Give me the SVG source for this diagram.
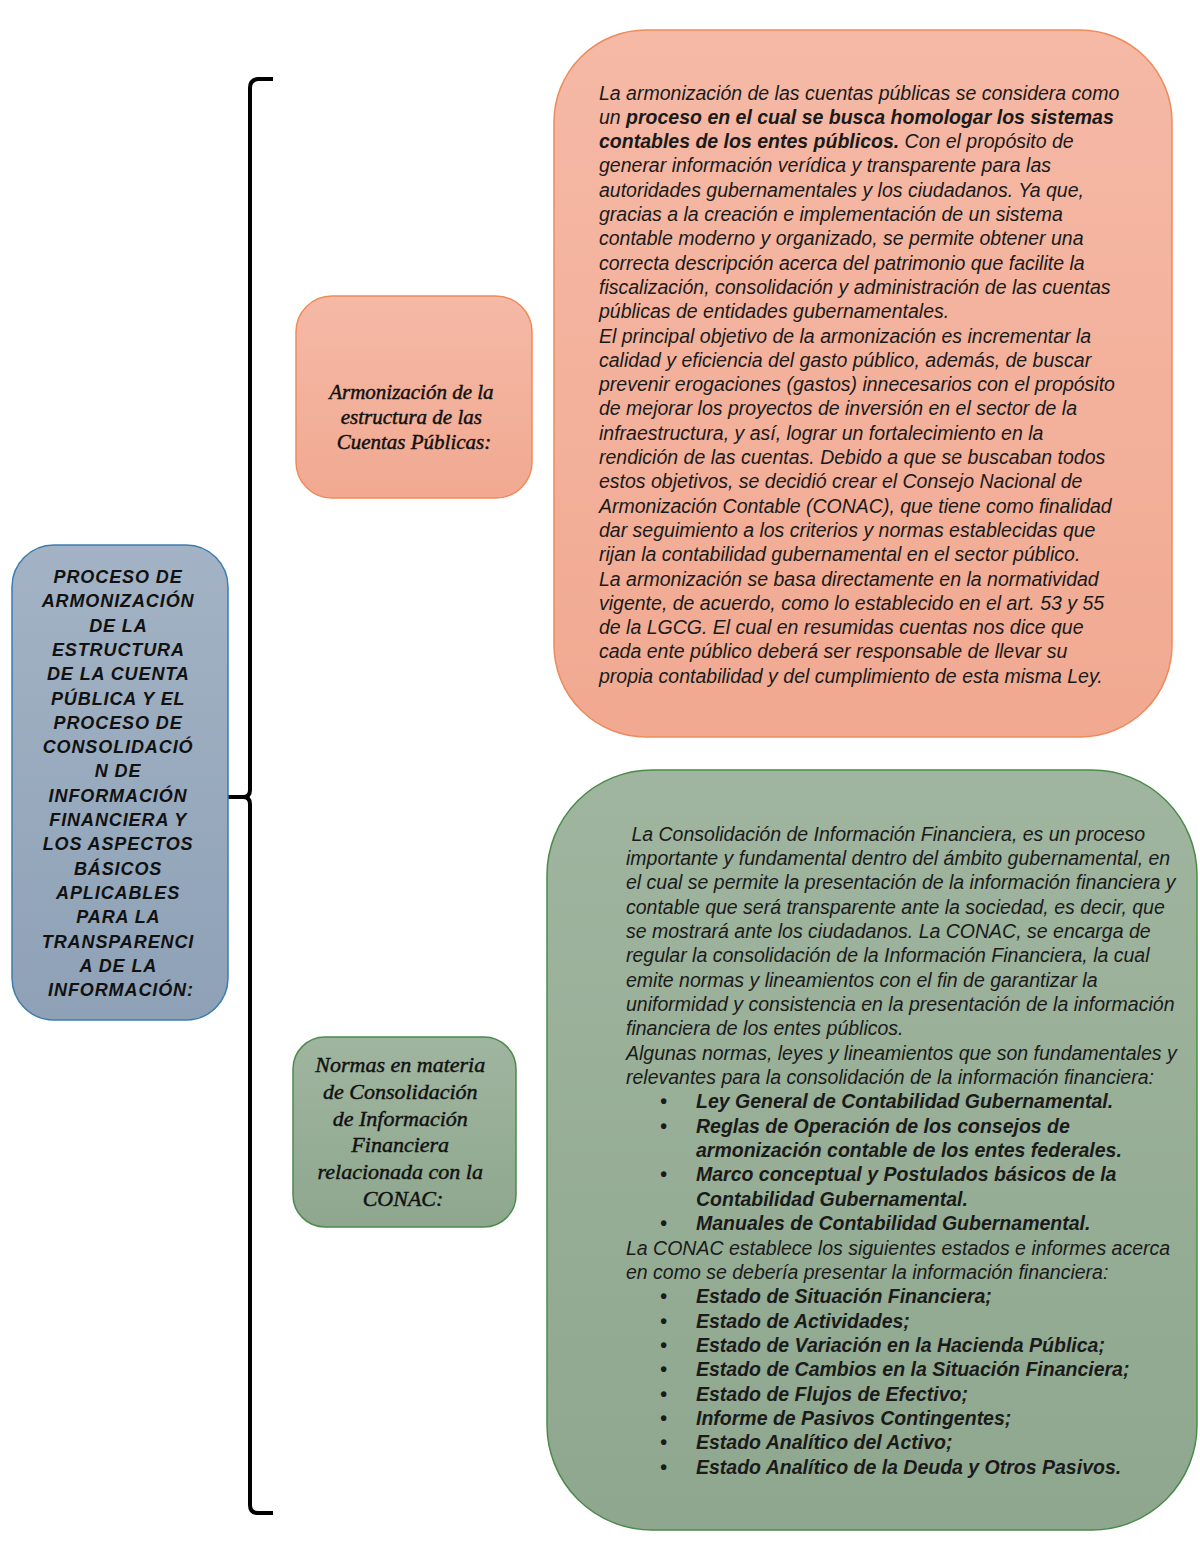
<svg xmlns="http://www.w3.org/2000/svg" width="1200" height="1553" viewBox="0 0 1200 1553">
<defs>
<linearGradient id="gBlue" x1="0" y1="0" x2="0" y2="1"><stop offset="0" stop-color="#a3b3c5"/><stop offset="1" stop-color="#8ea1b6"/></linearGradient>
<linearGradient id="gOrange" x1="0" y1="0" x2="0" y2="1"><stop offset="0" stop-color="#f5b9a6"/><stop offset="1" stop-color="#f1a991"/></linearGradient>
<linearGradient id="gGreen" x1="0" y1="0" x2="0" y2="1"><stop offset="0" stop-color="#a0b59f"/><stop offset="1" stop-color="#8fa78e"/></linearGradient>
</defs>
<style>
.blue{fill:url(#gBlue);stroke:#3c7cae;stroke-width:1.5}
.orange{fill:url(#gOrange);stroke:#ef8a59;stroke-width:1.5}
.green{fill:url(#gGreen);stroke:#4b8b4b;stroke-width:1.5}
.head{font-family:"Liberation Sans",Arial,sans-serif;font-size:18px;font-weight:bold;font-style:italic;fill:#111;text-anchor:middle;letter-spacing:0.9px}
.lbl{font-family:"Liberation Serif","Times New Roman",serif;font-style:italic;fill:#111;stroke:#111;stroke-width:0.45;text-anchor:middle}
.body{font-family:"Liberation Sans",Arial,sans-serif;font-size:19.5px;font-style:italic;fill:#1a1a1a}
.b{font-weight:bold}
.brace{fill:none;stroke:#000;stroke-width:4}
</style>
<rect width="1200" height="1553" fill="#fff"/>

<g id="connectors">
<path class="brace" d="M273,79 L258,79 Q250,80 250,88 L250,790 Q250,797 243,797 L228,797 M243,797 Q250,797 250,804 L250,1505 Q250,1513 258,1513 L273,1513"/>
</g>

<g id="node-main">
<rect class="blue" x="12" y="545" width="216" height="475" rx="42" ry="42"/>
<text class="head">
<tspan x="121" y="583">PROCESO DE</tspan>
<tspan x="121" y="607.3">ARMONIZACIÓN</tspan>
<tspan x="121" y="631.6">DE LA</tspan>
<tspan x="121" y="655.9">ESTRUCTURA</tspan>
<tspan x="121" y="680.2">DE LA CUENTA</tspan>
<tspan x="121" y="704.5">PÚBLICA Y EL</tspan>
<tspan x="121" y="728.8">PROCESO DE</tspan>
<tspan x="121" y="753.1">CONSOLIDACIÓ</tspan>
<tspan x="121" y="777.4">N DE</tspan>
<tspan x="121" y="801.7">INFORMACIÓN</tspan>
<tspan x="121" y="826">FINANCIERA Y</tspan>
<tspan x="121" y="850.3">LOS ASPECTOS</tspan>
<tspan x="121" y="874.6">BÁSICOS</tspan>
<tspan x="121" y="898.9">APLICABLES</tspan>
<tspan x="121" y="923.2">PARA LA</tspan>
<tspan x="121" y="947.5">TRANSPARENCI</tspan>
<tspan x="121" y="971.8">A DE LA</tspan>
<tspan x="121" y="996.1">INFORMACIÓN:</tspan>
</text>
</g>

<g id="node-armonizacion">
<rect class="orange" x="296" y="296" width="236" height="202" rx="36" ry="36"/>
<text class="lbl" font-size="21">
<tspan x="414" y="399">Armonización de la</tspan>
<tspan x="414" y="424">estructura de las</tspan>
<tspan x="414" y="449">Cuentas Públicas:</tspan>
</text>
</g>

<g id="node-armonizacion-texto">
<rect class="orange" x="554" y="30" width="618" height="707" rx="92" ry="92"/>
<text class="body">
<tspan x="599" y="99.5">La armonización de las cuentas públicas se considera como</tspan>
<tspan x="599" y="123.8">un <tspan class="b">proceso en el cual se busca homologar los sistemas</tspan></tspan>
<tspan x="599" y="148.1"><tspan class="b">contables de los entes públicos.</tspan> Con el propósito de</tspan>
<tspan x="599" y="172.4">generar información verídica y transparente para las</tspan>
<tspan x="599" y="196.7">autoridades gubernamentales y los ciudadanos. Ya que,</tspan>
<tspan x="599" y="221">gracias a la creación e implementación de un sistema</tspan>
<tspan x="599" y="245.3">contable moderno y organizado, se permite obtener una</tspan>
<tspan x="599" y="269.6">correcta descripción acerca del patrimonio que facilite la</tspan>
<tspan x="599" y="293.9">fiscalización, consolidación y administración de las cuentas</tspan>
<tspan x="599" y="318.2">públicas de entidades gubernamentales.</tspan>
<tspan x="599" y="342.5">El principal objetivo de la armonización es incrementar la</tspan>
<tspan x="599" y="366.8">calidad y eficiencia del gasto público, además, de buscar</tspan>
<tspan x="599" y="391.1">prevenir erogaciones (gastos) innecesarios con el propósito</tspan>
<tspan x="599" y="415.4">de mejorar los proyectos de inversión en el sector de la</tspan>
<tspan x="599" y="439.7">infraestructura, y así, lograr un fortalecimiento en la</tspan>
<tspan x="599" y="464">rendición de las cuentas. Debido a que se buscaban todos</tspan>
<tspan x="599" y="488.3">estos objetivos, se decidió crear el Consejo Nacional de</tspan>
<tspan x="599" y="512.6">Armonización Contable (CONAC), que tiene como finalidad</tspan>
<tspan x="599" y="536.9">dar seguimiento a los criterios y normas establecidas que</tspan>
<tspan x="599" y="561.2">rijan la contabilidad gubernamental en el sector público.</tspan>
<tspan x="599" y="585.5">La armonización se basa directamente en la normatividad</tspan>
<tspan x="599" y="609.8">vigente, de acuerdo, como lo establecido en el art. 53 y 55</tspan>
<tspan x="599" y="634.1">de la LGCG. El cual en resumidas cuentas nos dice que</tspan>
<tspan x="599" y="658.4">cada ente público deberá ser responsable de llevar su</tspan>
<tspan x="599" y="682.7">propia contabilidad y del cumplimiento de esta misma Ley.</tspan>
</text>
</g>

<g id="node-normas">
<rect class="green" x="293" y="1037" width="223" height="190" rx="32" ry="32"/>
<text class="lbl" font-size="22">
<tspan x="403" y="1072">Normas en materia</tspan>
<tspan x="403" y="1099">de Consolidación</tspan>
<tspan x="403" y="1126">de Información</tspan>
<tspan x="403" y="1152">Financiera</tspan>
<tspan x="403" y="1179">relacionada con la</tspan>
<tspan x="403" y="1206">CONAC:</tspan>
</text>
</g>

<g id="node-normas-texto">
<rect class="green" x="547" y="770" width="650" height="760" rx="105" ry="105"/>
<text class="body">
<tspan x="626" y="840.5" xml:space="preserve"> La Consolidación de Información Financiera, es un proceso</tspan>
<tspan x="626" y="864.9">importante y fundamental dentro del ámbito gubernamental, en</tspan>
<tspan x="626" y="889.2">el cual se permite la presentación de la información financiera y</tspan>
<tspan x="626" y="913.6">contable que será transparente ante la sociedad, es decir, que</tspan>
<tspan x="626" y="937.9">se mostrará ante los ciudadanos. La CONAC, se encarga de</tspan>
<tspan x="626" y="962.3">regular la consolidación de la Información Financiera, la cual</tspan>
<tspan x="626" y="986.6">emite normas y lineamientos con el fin de garantizar la</tspan>
<tspan x="626" y="1011">uniformidad y consistencia en la presentación de la información</tspan>
<tspan x="626" y="1035.3">financiera de los entes públicos.</tspan>
<tspan x="626" y="1059.7">Algunas normas, leyes y lineamientos que son fundamentales y</tspan>
<tspan x="626" y="1084">relevantes para la consolidación de la información financiera:</tspan>
<tspan x="626" y="1254.5">La CONAC establece los siguientes estados e informes acerca</tspan>
<tspan x="626" y="1278.8">en como se debería presentar la información financiera:</tspan>
</text>
<text class="body b">
<tspan x="660" y="1108.4">•</tspan><tspan x="696" y="1108.4">Ley General de Contabilidad Gubernamental.</tspan>
<tspan x="660" y="1132.7">•</tspan><tspan x="696" y="1132.7">Reglas de Operación de los consejos de</tspan>
<tspan x="696" y="1157.1">armonización contable de los entes federales.</tspan>
<tspan x="660" y="1181.4">•</tspan><tspan x="696" y="1181.4">Marco conceptual y Postulados básicos de la</tspan>
<tspan x="696" y="1205.8">Contabilidad Gubernamental.</tspan>
<tspan x="660" y="1230.1">•</tspan><tspan x="696" y="1230.1">Manuales de Contabilidad Gubernamental.</tspan>
<tspan x="660" y="1303.2">•</tspan><tspan x="696" y="1303.2">Estado de Situación Financiera;</tspan>
<tspan x="660" y="1327.5">•</tspan><tspan x="696" y="1327.5">Estado de Actividades;</tspan>
<tspan x="660" y="1351.9">•</tspan><tspan x="696" y="1351.9">Estado de Variación en la Hacienda Pública;</tspan>
<tspan x="660" y="1376.2">•</tspan><tspan x="696" y="1376.2">Estado de Cambios en la Situación Financiera;</tspan>
<tspan x="660" y="1400.6">•</tspan><tspan x="696" y="1400.6">Estado de Flujos de Efectivo;</tspan>
<tspan x="660" y="1424.9">•</tspan><tspan x="696" y="1424.9">Informe de Pasivos Contingentes;</tspan>
<tspan x="660" y="1449.3">•</tspan><tspan x="696" y="1449.3">Estado Analítico del Activo;</tspan>
<tspan x="660" y="1473.6">•</tspan><tspan x="696" y="1473.6">Estado Analítico de la Deuda y Otros Pasivos.</tspan>
</text>
</g>
</svg>
